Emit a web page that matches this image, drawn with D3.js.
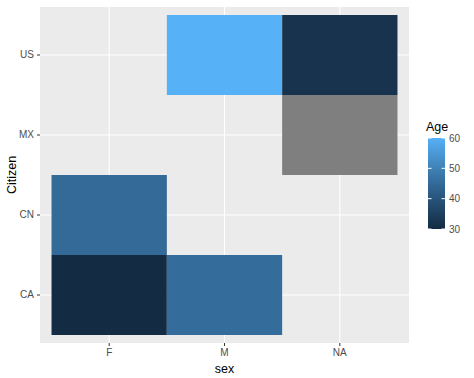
<!DOCTYPE html>
<html>
<head>
<meta charset="utf-8">
<script src="https://cdn.jsdelivr.net/npm/d3@7"></script>
<style>
  body { margin: 0; background: #fff; }
  text { font-family: "Liberation Sans", Arial, sans-serif; }
</style>
</head>
<body>
<svg width="474" height="378"></svg>
<script>
// categories
const sexes = ['F', 'M', 'NA'];
const citizens = ['CA', 'CN', 'MX', 'US'];

// one entry per tile (null age = missing value)
const cellSex = ['F', 'M', 'F', 'M', 'NA', 'NA'];
const cellCitizen = ['CA', 'CA', 'CN', 'US', 'US', 'MX'];
const cellAge = [30, 45.5, 45, 60, 32, null];

const legendTicks = [30, 40, 50, 60];

const data = cellSex.map((s, i) => ({ sex: s, citizen: cellCitizen[i], age: cellAge[i] }));

const svg = d3.select('svg');
const panel = { left: 40, right: 409, top: 7, bottom: 343 };

const xScale = d3.scaleBand()
    .domain(sexes)
    .range([panel.left, panel.right])
    .paddingInner(0)
    .paddingOuter(0.1);

const yScale = d3.scaleBand()
    .domain(citizens)
    .range([panel.bottom, panel.top])
    .paddingInner(0)
    .paddingOuter(0.1);

const colour = d3.scaleLinear()
    .domain([30, 60])
    .range(['#132B43', '#56B1F7'])
    .interpolate(d3.interpolateLab);
const naColour = '#7F7F7F';

// panel background
svg.append('rect')
    .attr('x', panel.left)
    .attr('y', panel.top)
    .attr('width', panel.right - panel.left)
    .attr('height', panel.bottom - panel.top)
    .attr('fill', '#EBEBEB');

// grid lines
const g = svg.append('g');
g.selectAll('.vgrid').data(sexes).join('line')
    .attr('x1', d => xScale(d) + xScale.bandwidth() / 2)
    .attr('x2', d => xScale(d) + xScale.bandwidth() / 2)
    .attr('y1', panel.top)
    .attr('y2', panel.bottom)
    .attr('stroke', '#fff')
    .attr('stroke-width', 1.1);

g.selectAll('.hgrid').data(citizens).join('line')
    .attr('y1', d => yScale(d) + yScale.bandwidth() / 2)
    .attr('y2', d => yScale(d) + yScale.bandwidth() / 2)
    .attr('x1', panel.left)
    .attr('x2', panel.right)
    .attr('stroke', '#fff')
    .attr('stroke-width', 1.1);

// tiles
g.selectAll('.tile').data(data).join('rect')
    .attr('x', d => xScale(d.sex))
    .attr('y', d => yScale(d.citizen))
    .attr('width', xScale.bandwidth())
    .attr('height', yScale.bandwidth())
    .attr('fill', d => d.age == null ? naColour : colour(d.age));

// axes
const styleAxis = sel => {
    sel.select('.domain').remove();
    sel.selectAll('.tick line').attr('stroke', '#333333');
    sel.selectAll('.tick text')
        .attr('fill', '#4D4D4D')
        .style('font-size', '10px');
};

svg.append('g')
    .attr('transform', `translate(0, ${panel.bottom})`)
    .call(d3.axisBottom(xScale).tickSize(3).tickPadding(3))
    .call(styleAxis);

svg.append('g')
    .attr('transform', `translate(${panel.left}, 0)`)
    .call(d3.axisLeft(yScale).tickSize(3).tickPadding(3))
    .call(styleAxis);

// axis titles
svg.append('text')
    .attr('x', (panel.left + panel.right) / 2)
    .attr('y', 373)
    .attr('text-anchor', 'middle')
    .style('font-size', '12.5px')
    .attr('fill', '#000')
    .text('sex');

svg.append('text')
    .attr('transform', `translate(16, ${(panel.top + panel.bottom) / 2}) rotate(-90)`)
    .attr('text-anchor', 'middle')
    .style('font-size', '12.5px')
    .attr('fill', '#000')
    .text('Citizen');

// legend
const legend = { x: 428, top: 138, bottom: 229, width: 17 };
const legendScale = d3.scaleLinear()
    .domain([30, 60])
    .range([legend.bottom, legend.top]);

const defs = svg.append('defs');
const grad = defs.append('linearGradient')
    .attr('id', 'ageGrad')
    .attr('x1', 0).attr('x2', 0)
    .attr('y1', 1).attr('y2', 0);
d3.range(0, 1.0001, 0.1).forEach(t => {
    grad.append('stop')
        .attr('offset', t)
        .attr('stop-color', colour(30 + t * 30));
});

svg.append('text')
    .attr('x', legend.x - 2)
    .attr('y', 131)
    .style('font-size', '12.5px')
    .attr('fill', '#000')
    .text('Age');

svg.append('rect')
    .attr('x', legend.x)
    .attr('y', legend.top)
    .attr('width', legend.width)
    .attr('height', legend.bottom - legend.top)
    .attr('fill', 'url(#ageGrad)');

const lt = svg.append('g');
lt.selectAll('.tl').data(legendTicks).join('line')
    .attr('x1', legend.x).attr('x2', legend.x + 3.5)
    .attr('y1', d => legendScale(d)).attr('y2', d => legendScale(d))
    .attr('stroke', '#fff');
lt.selectAll('.tr').data(legendTicks).join('line')
    .attr('x1', legend.x + legend.width - 3.5).attr('x2', legend.x + legend.width)
    .attr('y1', d => legendScale(d)).attr('y2', d => legendScale(d))
    .attr('stroke', '#fff');

svg.append('g')
    .attr('transform', `translate(${legend.x + legend.width}, 0)`)
    .call(d3.axisRight(legendScale).tickValues(legendTicks).tickSize(0).tickPadding(4))
    .call(sel => {
        sel.select('.domain').remove();
        sel.selectAll('.tick text').attr('fill', '#4D4D4D').style('font-size', '10px');
    });
</script>
</body>
</html>
